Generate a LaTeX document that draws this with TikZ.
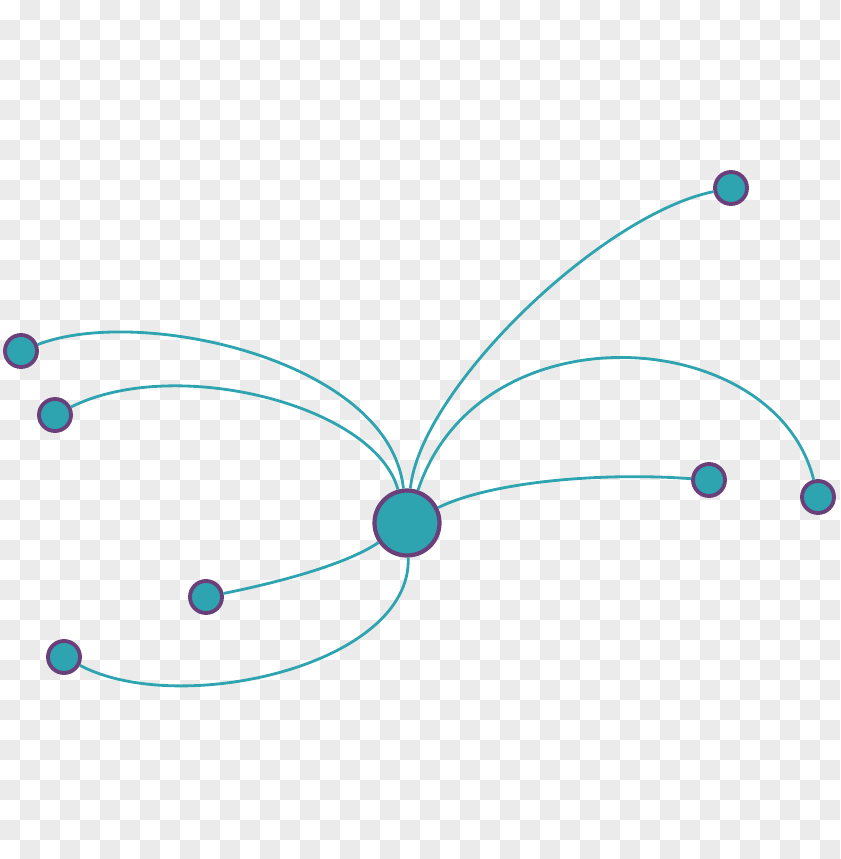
\documentclass[tikz,border=0pt]{standalone}
\usepackage{tikz}
\usetikzlibrary{positioning,calc}

\definecolor{tealfill}{HTML}{2EA4B0}
\definecolor{plumedge}{HTML}{6B3F7A}
\definecolor{checkgray}{HTML}{EBEBEB}

\tikzset{
    hub/.style={circle, fill=tealfill, draw=plumedge, line width=2.4pt, minimum size=1.3cm, inner sep=0pt},
    leaf/.style={circle, fill=tealfill, draw=plumedge, line width=2.2pt, minimum size=0.64cm, inner sep=0pt},
    link/.style={draw=tealfill, line width=1.6pt}
}

\begin{document}
\begin{tikzpicture}[x=0.02cm, y=-0.02cm]
    \useasboundingbox (0,0) rectangle (840,859);
    % checkered backdrop
    \begin{scope}
        \clip (0,0) rectangle (840,859);
        \foreach \j in {0,2,...,42}
            \foreach \i in {1,3,...,41}
                \fill[checkgray] (\i*20,\j*20) rectangle ++(20,20);
        \foreach \j in {1,3,...,41}
            \foreach \i in {0,2,...,40}
                \fill[checkgray] (\i*20,\j*20) rectangle ++(20,20);
    \end{scope}

    \node[hub] (center) at (407,523) {};
    \node[leaf] (farleft) at (21,351) {};
    \node[leaf] (left) at (55,415) {};
    \node[leaf] (top) at (731,188) {};
    \node[leaf] (right) at (709,480) {};
    \node[leaf] (farright) at (818,497) {};
    \node[leaf] (lower) at (206,597) {};
    \node[leaf] (bottom) at (64,657) {};

    \draw[link] (farleft) .. controls (140,305) and (390,360) .. (center);
    \draw[link] (left) .. controls (175,355) and (375,405) .. (center);
    \draw[link] (top) .. controls (600,215) and (420,390) .. (center);
    \draw[link] (farright) .. controls (775,325) and (480,305) .. (center);
    \draw[link] (right) .. controls (600,472) and (490,482) .. (center);
    \draw[link] (lower) .. controls (290,580) and (350,562) .. (center);
    \draw[link] (bottom) .. controls (180,718) and (412,665) .. (center);
\end{tikzpicture}
\end{document}
